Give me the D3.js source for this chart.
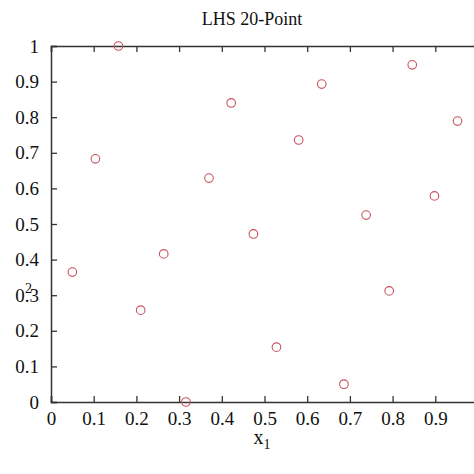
<!DOCTYPE html>
<html><head><meta charset="utf-8">
<script src="https://cdn.jsdelivr.net/npm/d3@7"></script>
<style>body{margin:0;background:#fff}text{font-family:"Liberation Serif","DejaVu Serif",serif;fill:#111}</style>
</head><body><svg id="c" width="474" height="474"></svg>
<script>
const xs = [0.05,0.104,0.158,0.21,0.264,0.316,0.37,0.422,0.474,0.528,0.58,0.634,0.686,0.738,0.792,0.846,0.898,0.952];
const ys = [0.365,0.683,1.0,0.258,0.416,0.0,0.629,0.84,0.472,0.154,0.736,0.893,0.05,0.525,0.312,0.947,0.579,0.789];
const ticks = [0,0.1,0.2,0.3,0.4,0.5,0.6,0.7,0.8,0.9,1];
const svg = d3.select("#c");
const x = d3.scaleLinear().domain([0,1]).range([51,478]);
const y = d3.scaleLinear().domain([0,1]).range([402,46]);
const fmt = d=>d===0?"0":d===1?"1":d3.format(".1f")(d);

svg.append("g").attr("transform","translate(0,402)")
  .call(d3.axisBottom(x).tickValues(ticks.slice(0,10)).tickSize(-6).tickPadding(10).tickFormat(fmt));
svg.append("g").attr("transform","translate(0,46)")
  .call(d3.axisTop(x).tickValues(ticks.slice(0,10)).tickSize(-6).tickFormat(""));
svg.append("g").attr("transform","translate(51,0)")
  .call(d3.axisLeft(y).tickValues(ticks).tickSize(-6).tickPadding(12).tickFormat(fmt));
svg.selectAll(".domain").attr("stroke","#333").attr("stroke-width",1.5);
svg.selectAll(".tick line").attr("stroke","#333").attr("stroke-width",1.3);
svg.selectAll(".tick text").attr("font-size",19).attr("fill","#111").style("font-family","Liberation Serif");

svg.selectAll("circle.p").data(xs.map((v,i)=>[v,ys[i]])).enter().append("circle")
  .attr("class","p").attr("cx",d=>x(d[0])).attr("cy",d=>y(d[1])).attr("r",4.3)
  .attr("fill","none").attr("stroke","#c8505e").attr("stroke-width",1.1);

svg.append("text").attr("x",252).attr("y",25).attr("text-anchor","middle").attr("font-size",18).text("LHS 20-Point");
const xl = svg.append("text").attr("x",262).attr("y",444).attr("text-anchor","middle").attr("font-size",20);
xl.append("tspan").text("x");
xl.append("tspan").attr("dy",5).attr("font-size",14).text("1");
const yl = svg.append("text").attr("y",288).attr("font-size",20);
yl.append("tspan").attr("x",-14).text("x");
yl.append("tspan").attr("x",25).attr("dy",5).attr("font-size",14).text("2");
</script></body></html>
